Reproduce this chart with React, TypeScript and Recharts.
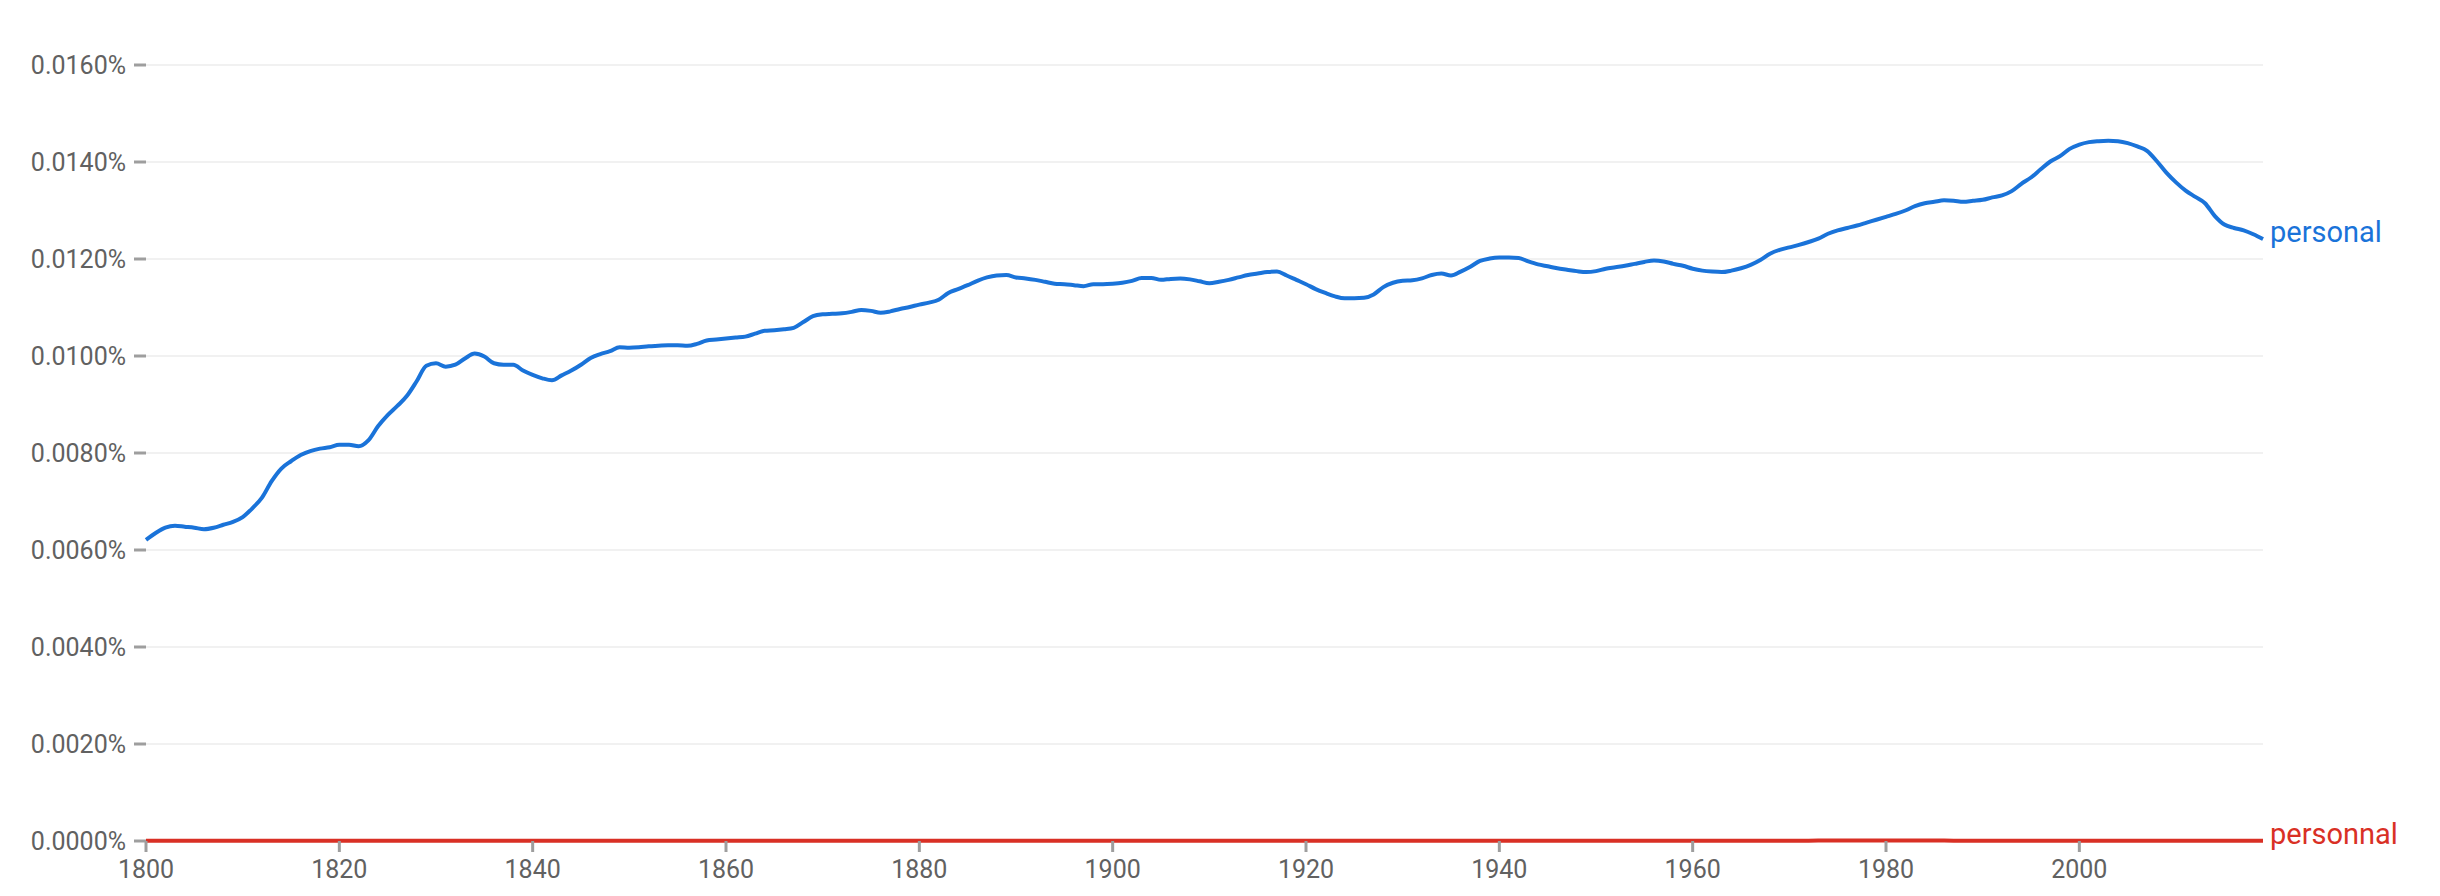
import React from "react";
import { LineChart, Line, XAxis, YAxis, CartesianGrid } from "recharts";

const startYear = 1800;

// "personal" yearly values (% of words), 1800..2019
const personal: number[] = [
  0.00621, 0.00635, 0.00646, 0.0065, 0.00648, 0.00646, 0.00643, 0.00646, 0.00652, 0.00658,
  0.00668, 0.00686, 0.00708, 0.00742, 0.00768, 0.00783, 0.00796, 0.00804, 0.00809, 0.00812,
  0.00817, 0.00817, 0.00814, 0.00826, 0.00855, 0.00878, 0.00897, 0.00918, 0.00948, 0.0098,
  0.00985, 0.00978, 0.00982, 0.00995, 0.01005, 0.00999, 0.00985, 0.00982, 0.00982, 0.0097,
  0.00961, 0.00954, 0.0095, 0.0096, 0.0097, 0.00982, 0.00996, 0.01004, 0.0101, 0.01018,
  0.01017, 0.01018, 0.0102, 0.01021, 0.01022, 0.01022, 0.01021, 0.01025, 0.01032, 0.01034,
  0.01036, 0.01038, 0.0104, 0.01046, 0.01052, 0.01053, 0.01055, 0.01058, 0.0107, 0.01082,
  0.01086, 0.01087, 0.01088, 0.01091, 0.01095, 0.01093, 0.01089, 0.01092, 0.01097, 0.01101,
  0.01106, 0.0111, 0.01116, 0.0113, 0.01138, 0.01146, 0.01155, 0.01162, 0.01166, 0.01167,
  0.01162, 0.0116, 0.01157, 0.01153, 0.01149, 0.01148, 0.01146, 0.01144, 0.01148, 0.01148,
  0.01149, 0.01151, 0.01155, 0.01161, 0.01161, 0.01157, 0.01159, 0.0116, 0.01158, 0.01154,
  0.0115, 0.01153, 0.01157, 0.01162, 0.01167, 0.0117, 0.01173, 0.01174, 0.01166, 0.01157,
  0.01148, 0.01138, 0.0113, 0.01123, 0.01119, 0.01119, 0.0112, 0.01127, 0.01142, 0.01151,
  0.01155, 0.01156, 0.0116, 0.01167, 0.0117, 0.01166, 0.01174, 0.01184, 0.01196, 0.01201,
  0.01203, 0.01203, 0.01202, 0.01195, 0.01189, 0.01185, 0.01181, 0.01178, 0.01175, 0.01173,
  0.01175, 0.0118, 0.01183, 0.01186, 0.0119, 0.01194, 0.01197, 0.01195, 0.0119, 0.01186,
  0.0118, 0.01176, 0.01174, 0.01173, 0.01176, 0.01181, 0.01188, 0.01198, 0.01211, 0.01219,
  0.01224, 0.01229, 0.01235, 0.01242, 0.01252, 0.01259, 0.01264, 0.01269, 0.01275, 0.01281,
  0.01287, 0.01293, 0.013, 0.01309, 0.01315, 0.01318, 0.01321, 0.0132, 0.01318, 0.0132,
  0.01322, 0.01327, 0.01331, 0.0134, 0.01355, 0.01368, 0.01385, 0.01401, 0.01412, 0.01427,
  0.01436, 0.01441, 0.01443, 0.01444, 0.01443, 0.01439, 0.01432, 0.01423, 0.01402, 0.01378,
  0.01358, 0.01341, 0.01328, 0.01315, 0.01289, 0.01271, 0.01264, 0.01259, 0.01251, 0.01241,
];

// "personnal" yearly values (% of words), 1800..2019 — essentially zero
const personnal: number[] = [
  0.000003, 0.000003, 0.000003, 0.000003, 0.000003, 0.000003, 0.000003, 0.000003, 0.000003, 0.000003,
  0.000003, 0.000003, 0.000003, 0.000003, 0.000003, 0.000003, 0.000003, 0.000003, 0.000003, 0.000003,
  0.000003, 0.000003, 0.000003, 0.000003, 0.000003, 0.000003, 0.000003, 0.000003, 0.000003, 0.000003,
  0.000003, 0.000003, 0.000003, 0.000003, 0.000003, 0.000003, 0.000003, 0.000003, 0.000003, 0.000003,
  0.000003, 0.000003, 0.000003, 0.000003, 0.000003, 0.000003, 0.000003, 0.000003, 0.000003, 0.000003,
  0.000003, 0.000003, 0.000003, 0.000003, 0.000003, 0.000003, 0.000003, 0.000003, 0.000003, 0.000003,
  0.000003, 0.000003, 0.000003, 0.000003, 0.000003, 0.000003, 0.000003, 0.000003, 0.000003, 0.000003,
  0.000003, 0.000003, 0.000003, 0.000003, 0.000003, 0.000003, 0.000003, 0.000003, 0.000003, 0.000003,
  0.000003, 0.000003, 0.000003, 0.000003, 0.000003, 0.000003, 0.000003, 0.000003, 0.000003, 0.000003,
  0.000003, 0.000003, 0.000003, 0.000003, 0.000003, 0.000003, 0.000003, 0.000003, 0.000003, 0.000003,
  0.000003, 0.000003, 0.000003, 0.000003, 0.000003, 0.000003, 0.000003, 0.000003, 0.000003, 0.000003,
  0.000003, 0.000003, 0.000003, 0.000003, 0.000003, 0.000003, 0.000003, 0.000003, 0.000003, 0.000003,
  0.000003, 0.000003, 0.000003, 0.000003, 0.000003, 0.000003, 0.000003, 0.000003, 0.000003, 0.000003,
  0.000003, 0.000003, 0.000003, 0.000003, 0.000003, 0.000003, 0.000003, 0.000003, 0.000003, 0.000003,
  0.000003, 0.000003, 0.000003, 0.000003, 0.000003, 0.000003, 0.000003, 0.000003, 0.000003, 0.000003,
  0.000003, 0.000003, 0.000003, 0.000003, 0.000003, 0.000003, 0.000003, 0.000003, 0.000003, 0.000003,
  0.000003, 0.000003, 0.000003, 0.000003, 0.000003, 0.000003, 0.000003, 0.000003, 0.000003, 0.000003,
  0.000004, 0.000005, 0.000007, 0.000009, 0.00001, 0.000011, 0.000011, 0.000011, 0.000011, 0.000011,
  0.000011, 0.000011, 0.000011, 0.000011, 0.000011, 0.00001, 0.000009, 0.000007, 0.000005, 0.000004,
  0.000003, 0.000003, 0.000003, 0.000003, 0.000003, 0.000003, 0.000003, 0.000003, 0.000003, 0.000003,
  0.000003, 0.000003, 0.000003, 0.000003, 0.000003, 0.000003, 0.000003, 0.000003, 0.000003, 0.000003,
  0.000003, 0.000003, 0.000003, 0.000003, 0.000003, 0.000003, 0.000003, 0.000003, 0.000003, 0.000003,
];

const xTicks = [1800, 1820, 1840, 1860, 1880, 1900, 1920, 1940, 1960, 1980, 2000];
const yTicks = [0, 0.002, 0.004, 0.006, 0.008, 0.01, 0.012, 0.014, 0.016];

const seriesNames = ["personal", "personnal"];
const seriesColors = ["#1a73d9", "#d93025"];

const data = personal.map((v, i) => ({
  year: startYear + i,
  personal: v,
  personnal: personnal[i],
}));

const lastIndex = data.length - 1;

const makeEndLabel = (name: string, color: string) => (props: any) => {
  const { x, y, index } = props;
  if (index !== lastIndex) return <g />;
  return (
    <text
      x={x + 7}
      y={y + 3}
      fill={color}
      fontSize={29}
      fontFamily="Roboto, sans-serif"
      textAnchor="start"
    >
      {name}
    </text>
  );
};

export default function App() {
  return (
    <div style={{ width: 2424, height: 880, background: "#fff" }}>
      <LineChart
        width={2424}
        height={880}
        data={data}
        margin={{ top: 57, right: 169, left: 0, bottom: 0 }}
        style={{ overflow: "visible" }}
      >
        <CartesianGrid vertical={false} stroke="#f1f1f1" strokeWidth={2} />
        <XAxis
          dataKey="year"
          type="number"
          domain={[1800, 2019]}
          ticks={xTicks}
          axisLine={false}
          tickLine={{ stroke: "#9e9e9e", strokeWidth: 3 }}
          tickSize={11}
          tickMargin={8}
          height={47}
          interval={0}
          tick={{ fill: "#616161", fontSize: 25, fontFamily: "Roboto, sans-serif" }}
        />
        <YAxis
          type="number"
          domain={[0, 0.016]}
          ticks={yTicks}
          axisLine={false}
          tickLine={{ stroke: "#9e9e9e", strokeWidth: 3 }}
          tickSize={12}
          tickMargin={8}
          width={138}
          interval={0}
          tickFormatter={(v: number) => v.toFixed(4) + "%"}
          tick={{ fill: "#616161", fontSize: 25, fontFamily: "Roboto, sans-serif" }}
        />
        <Line
          dataKey="personnal"
          type="monotone"
          stroke={seriesColors[1]}
          strokeWidth={4}
          dot={false}
          isAnimationActive={false}
          label={makeEndLabel(seriesNames[1], seriesColors[1])}
        />
        <Line
          dataKey="personal"
          type="monotone"
          stroke={seriesColors[0]}
          strokeWidth={4}
          dot={false}
          isAnimationActive={false}
          label={makeEndLabel(seriesNames[0], seriesColors[0])}
        />
      </LineChart>
    </div>
  );
}
